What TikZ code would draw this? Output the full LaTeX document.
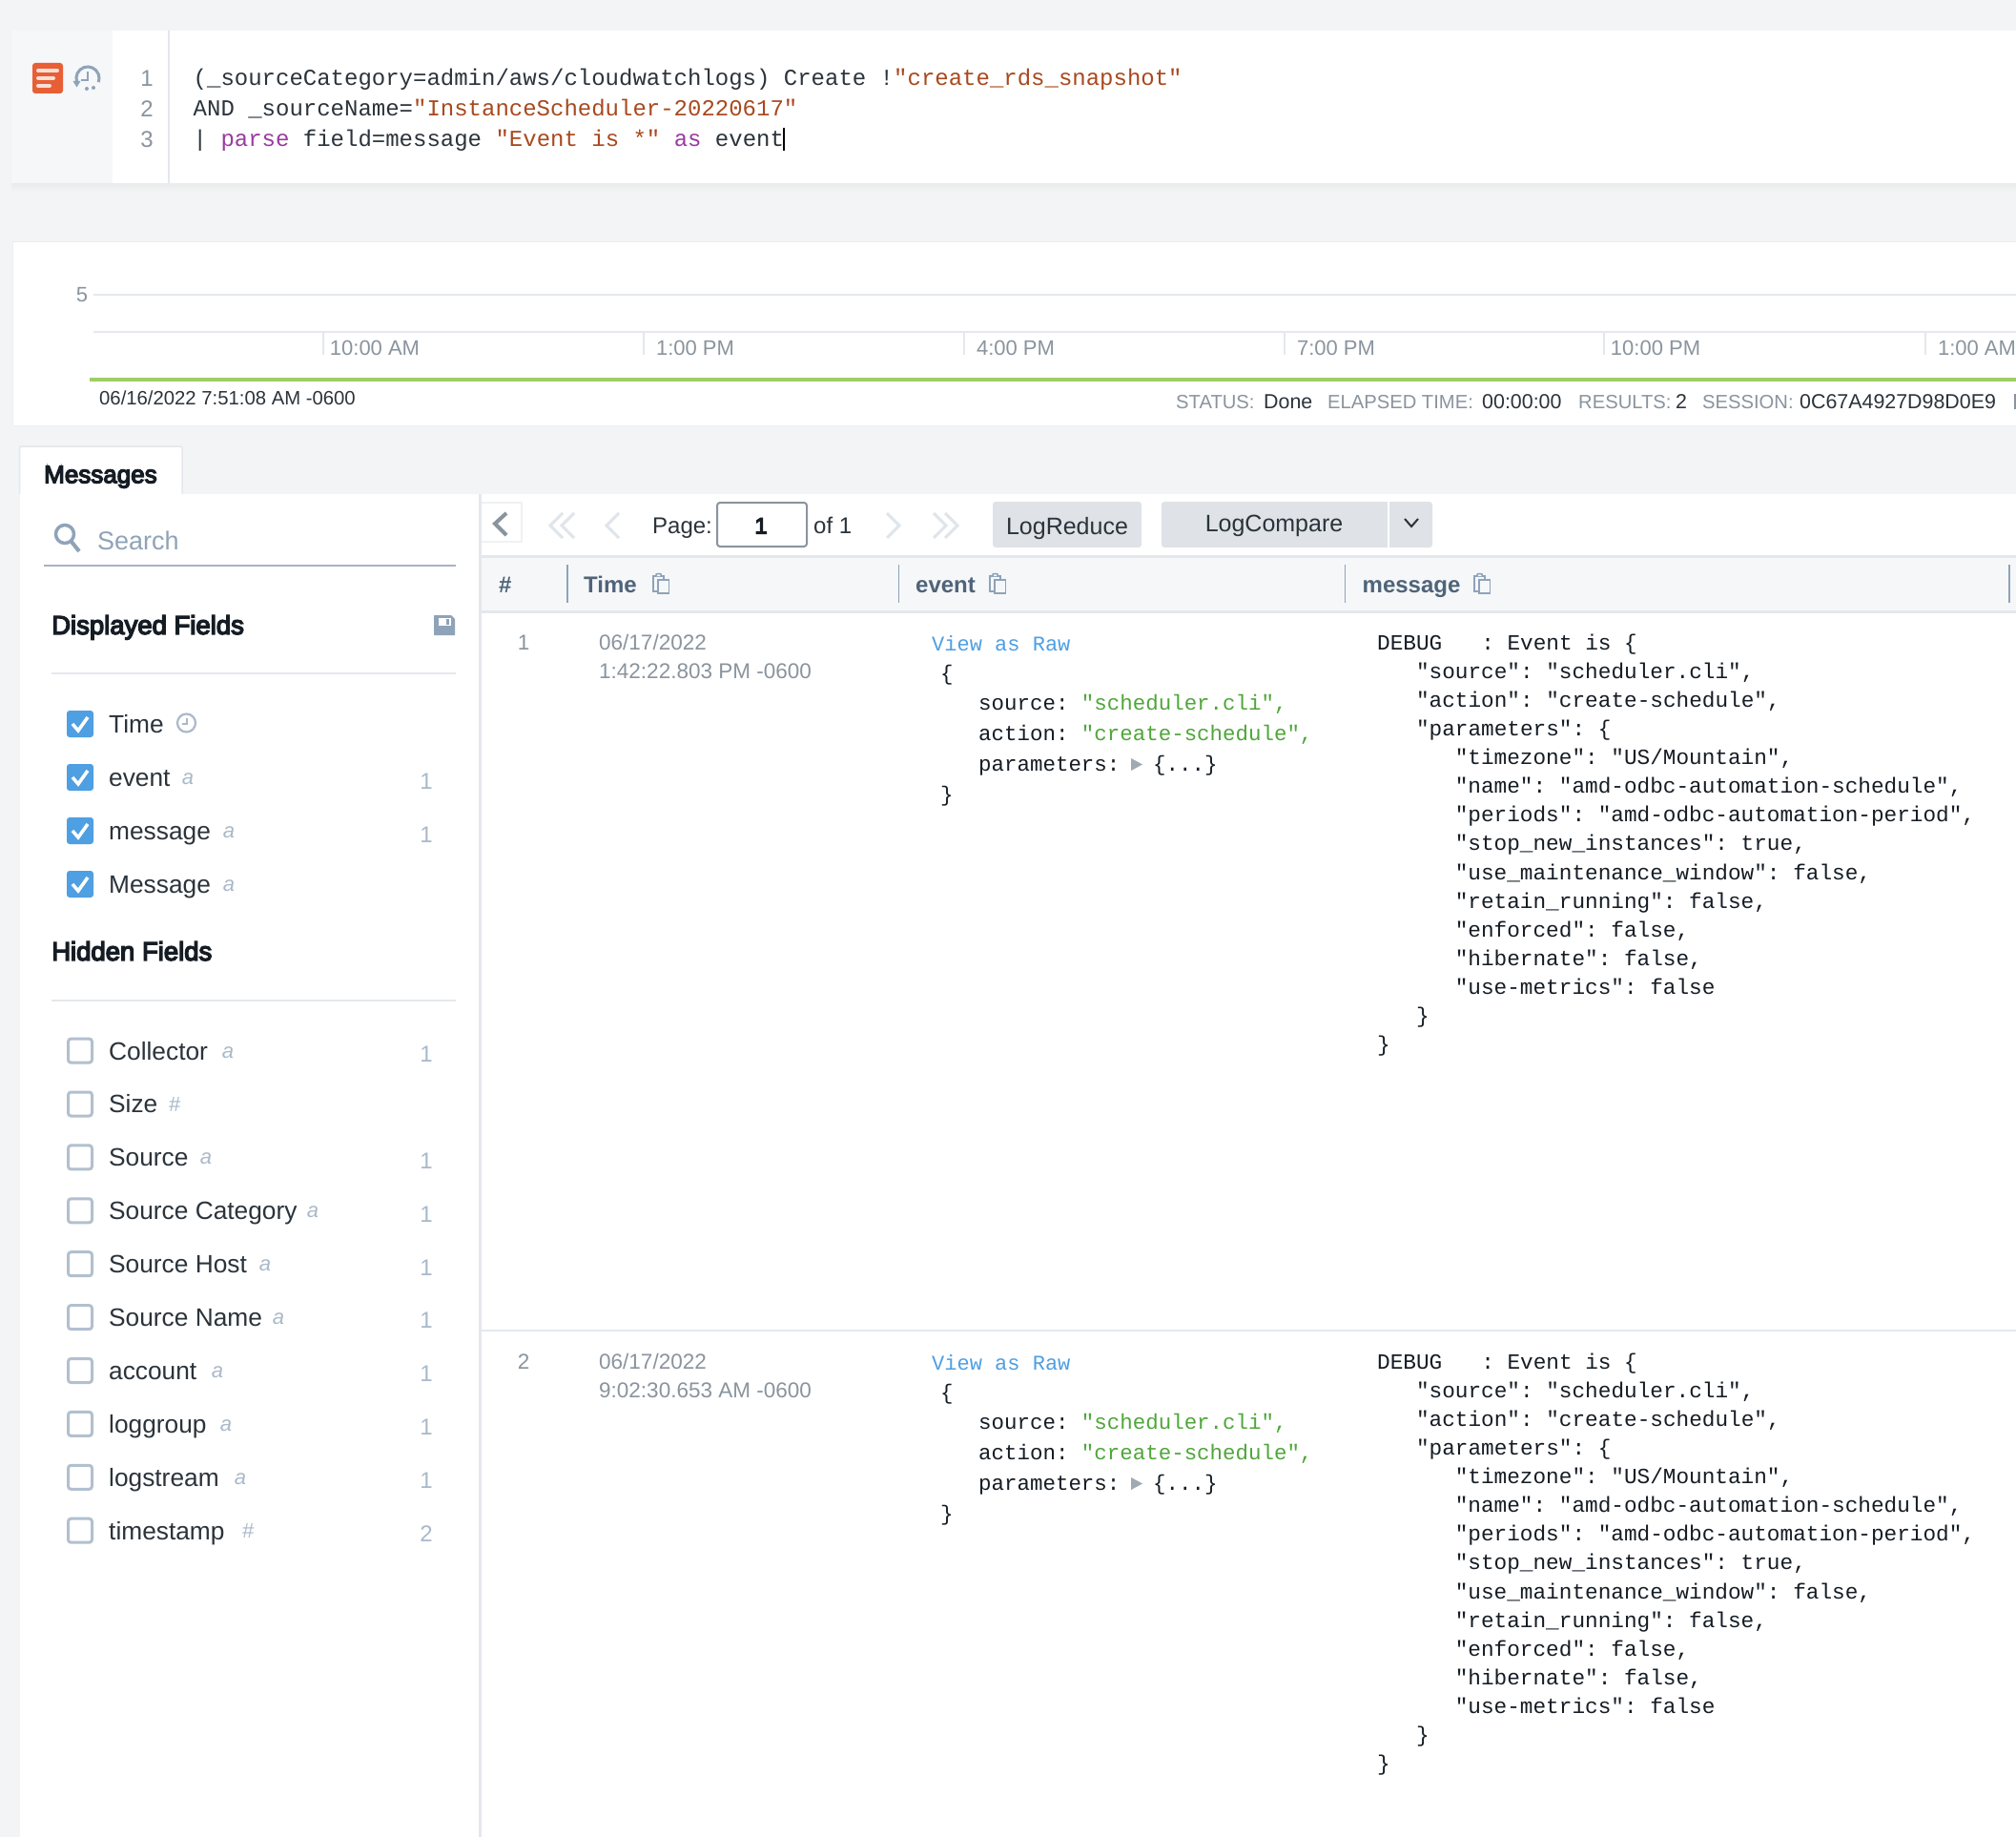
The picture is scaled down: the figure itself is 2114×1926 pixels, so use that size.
\documentclass[tikz,border=0pt]{standalone}
\usepackage{fontspec}
\setmainfont{Liberation Sans}
\newfontfamily\codefont{Liberation Mono}
\newfontfamily\medfont[FakeBold=5]{Liberation Sans}
\usepackage{xcolor}
\definecolor{pagebg}{HTML}{F2F4F6}
\definecolor{gutterbg}{HTML}{F5F7F9}
\definecolor{rulegrey}{HTML}{E4E8EC}
\definecolor{darktext}{HTML}{2B333B}
\definecolor{headtext}{HTML}{151C24}
\definecolor{greytext}{HTML}{8A949E}
\definecolor{paleblue}{HTML}{8FA3B8}
\definecolor{faintblue}{HTML}{AAB9C9}
\definecolor{colhead}{HTML}{4F6479}
\definecolor{tickblue}{HTML}{4F9FE3}
\definecolor{stringbrown}{HTML}{A8491E}
\definecolor{keypurple}{HTML}{9A3AA0}
\definecolor{jsongreen}{HTML}{4FA63A}
\definecolor{logoorange}{HTML}{E85F36}
\definecolor{btngrey}{HTML}{DFE3E7}
\definecolor{chevgrey}{HTML}{DFE5EA}
\definecolor{donegreen}{HTML}{A0CC66}
\newcommand\fs[1]{\fontsize{#1}{#1}\selectfont}
\tikzset{%
    sans/.style={font=\fs{#1}, inner sep=0pt, anchor=base west, yshift={-0.36*#1pt}},
    med/.style={font=\medfont\fs{#1}, inner sep=0pt, anchor=base west, yshift={-0.36*#1pt}},
    head/.style={font=\bfseries\fs{#1}, inner sep=0pt, anchor=base west, yshift={-0.36*#1pt}, text=colhead},
    code/.style={font=\codefont\fs{#1}, inner sep=0pt, anchor=base west, yshift={-0.33*#1pt}},
    kindmark/.style={font=\itshape\fs{22}, inner sep=0pt, anchor=base, yshift=-7.5pt, text=faintblue},
    chev/.style={draw=chevgrey, line width=3pt},
    colsep/.style={draw=paleblue, line width=1.5pt},
    pics/checked/.style={code={
        \fill[tickblue, rounded corners=3pt] (-14,-14) rectangle (14,14);
        \draw[white, line width=3.5pt] (-8,0) -- (-2,7) -- (8,-7);
    }},
    pics/unchecked/.style={code={
        \draw[draw=faintblue!90!white, fill=white, line width=3pt, rounded corners=3pt] (-12.5,-12.5) rectangle (12.5,12.5);
    }},
    pics/clipicon/.style={code={
        \draw[paleblue, line width=1.5pt] (-8,-8) rectangle (3,8);
        \draw[paleblue, fill=gutterbg, line width=1.5pt] (-3,-4) rectangle (8.5,10);
        \draw[paleblue, fill=gutterbg, line width=1.5pt] (-5,-8) -- (-5,-10) -- (-2.5,-10.5) -- (0,-10) -- (0,-8);
    }}
}

\begin{document}
\frenchspacing
\begin{tikzpicture}[x=1pt,y=-1pt]
\useasboundingbox (0,0) rectangle (2114,1926);
\fill[pagebg] (0,0) rectangle (2114,1926);

\shade[top color=black!8, bottom color=pagebg] (12,192) rectangle (2114,201);
\shade[left color=pagebg, right color=black!5] (8,32) rectangle (12,192);
\fill[white] (12,32) rectangle (2114,192);
\fill[gutterbg] (12,32) rectangle (118,192);
\fill[rulegrey] (176,32) rectangle (178,192);

\fill[logoorange, rounded corners=3pt] (34,66) rectangle (66,98);
\draw[white!80!logoorange, line width=4pt, line cap=round] (40,74) -- (60,74);
\draw[white!80!logoorange, line width=4pt, line cap=round] (40,82) -- (56,82);
\draw[white!80!logoorange, line width=4pt, line cap=round] (40,90) -- (52,90);
\draw[paleblue, line width=3pt] (80.7,86.1) arc[start angle=200, end angle=-20, radius=12pt];
\fill[paleblue] (76.5,85) -- (84.5,85) -- (80.5,91.5) -- cycle;
\draw[paleblue, line width=2pt] (92,75) -- (92,84) -- (85,84);
\fill[paleblue] (91,93) circle (2);
\fill[paleblue] (98,92) circle (2);

\foreach \n/\y in {1/82, 2/114, 3/146}
    \node[sans=24, text=greytext, anchor=base] (lineno\n) at (154,\y) {\n};
\node[code=24, text=darktext] (codeone) at (202.5,82) {(\_sourceCategory=admin/aws/cloudwatchlogs) Create !\textcolor{stringbrown}{"create\_rds\_snapshot"}};
\node[code=24, text=darktext] (codetwo) at (202.5,114) {AND \_sourceName=\textcolor{stringbrown}{"InstanceScheduler-20220617"}};
\node[code=24, text=darktext] (codethree) at (202.5,146) {| \textcolor{keypurple}{parse} field=message \textcolor{stringbrown}{"Event is *"} \textcolor{keypurple}{as} event};
\draw[black, line width=2pt] (822,134) -- (822,158);

\draw[draw=rulegrey!70!white, fill=white, line width=1pt] (13.5,254) rectangle (2116,446);
\node[sans=22, text=greytext, anchor=base] (ylabel) at (86,309) {5};
\draw[rulegrey, line width=2pt] (98,309) -- (2114,309);
\draw[rulegrey, line width=2pt] (98,348) -- (2114,348);
\foreach \t/\lab in {339/10:00 AM, 675/1:00 PM, 1011/4:00 PM, 1347/7:00 PM, 1682/10:00 PM, 2019/1:00 AM} {
    \draw[rulegrey, line width=1.5pt] (\t,348) -- (\t,372);
    \node[sans=22, text=greytext, anchor=base] (tick\t) at (\t+54,365) {\lab};
}
\fill[donegreen] (94,396) rectangle (2114,400);
\node[sans=20.3, text=darktext] (startdate) at (104,417) {06/16/2022 7:51:08 AM -0600};

\node[sans=20.2, text=greytext] (statuskey) at (1233,421) {STATUS:};
\node[sans=21.4, text=darktext] (statusval) at (1325,421) {Done};
\node[sans=20.2, text=greytext] (elapsedkey) at (1392,421) {ELAPSED TIME:};
\node[sans=21.4, text=darktext] (elapsedval) at (1554,421) {00:00:00};
\node[sans=20.2, text=greytext] (resultskey) at (1655,421) {RESULTS:};
\node[sans=21.4, text=darktext] (resultsval) at (1757,421) {2};
\node[sans=20.2, text=greytext] (sessionkey) at (1785,421) {SESSION:};
\node[sans=21.4, text=darktext] (sessionval) at (1887,421) {0C67A4927D98D0E9};
\draw[greytext, line width=2pt] (2112.5,413) -- (2112.5,429);

\draw[draw=rulegrey, fill=white, line width=1.5pt, rounded corners=2pt] (20.5,518) -- (20.5,468) -- (191,468) -- (191,518);
\fill[white] (21,518) rectangle (2114,1926);
\node[med=26, text=headtext] (tabmessages) at (46,497) {Messages};
\fill[rulegrey] (502,518) rectangle (505,1926);

\draw[paleblue, line width=3.5pt] (68,560) circle (9.5);
\draw[paleblue, line width=4pt] (75,568) -- (83,578);
\node[sans=27, text=paleblue] (searchbox) at (102,566.5) {Search};
\draw[faintblue!90!gray, line width=2pt] (46,593) -- (478,593);

\node[med=27.5, text=headtext] (displayed) at (54,655) {Displayed Fields};
\fill[paleblue, rounded corners=0.5pt] (455,645) -- (473,645) -- (477,649) -- (477,666) -- (455,666) -- cycle;
\fill[white] (460,648) rectangle (473,656);
\fill[paleblue] (468,649) rectangle (471,655);
\draw[rulegrey, line width=2pt] (54,706) -- (478,706);

\pic at (84,759) {checked};
\node[sans=26.3, text=darktext] (fieldtime) at (114,759) {Time};
\draw[faintblue, line width=2.2pt] (195.5,758) circle (9.5);
\draw[faintblue, line width=1.5pt] (196,753) -- (196,759) -- (191,759);
\foreach \fieldname/\kindx/\fieldcount [count=\k] in {event/197/1, message/240/1, Message/240/{}} {
    \pic at (84,{759+56*\k}) {checked};
    \node[sans=26.3, text=darktext] (shown\k) at (114,{759+56*\k}) {\fieldname};
    \node[kindmark] (shownkind\k) at (\kindx,{759+56*\k}) {a};
    \node[sans=24, text=faintblue, anchor=base] (showncount\k) at (447,{763+56*\k}) {\fieldcount};
}

\node[med=27.5, text=headtext] (hidden) at (54,997) {Hidden Fields};
\draw[rulegrey, line width=2pt] (54,1049) -- (478,1049);
\foreach \fieldname/\fieldkind/\kindx/\fieldcount [count=\k] in {Collector/a/239/1, Size/\#/183/{}, Source/a/216/1, Source Category/a/328/1, Source Host/a/278/1, Source Name/a/292/1, account/a/228/1, loggroup/a/237/1, logstream/a/252/1, timestamp/\#/260/2} {
    \pic at (84,{1045.7+55.9*\k}) {unchecked};
    \node[sans=26.3, text=darktext] (hide\k) at (114,{1045.7+55.9*\k}) {\fieldname};
    \node[kindmark] (hidekind\k) at (\kindx,{1045.7+55.9*\k}) {\fieldkind};
    \node[sans=24, text=faintblue, anchor=base] (hidecount\k) at (447,{1048.9+55.9*\k}) {\fieldcount};
}

\draw[draw=rulegrey!60!white, line width=2pt] (505,527) -- (547,527) -- (547,568) -- (505,568);
\draw[draw=greytext, line width=4pt] (531,538) -- (519,549) -- (531,561);
\draw[chev] (590,538) -- (577,551) -- (590,564);
\draw[chev] (602,538) -- (589,551) -- (602,564);
\draw[chev] (649,538) -- (636,551) -- (649,564);
\node[sans=24, text=darktext] (pagelabel) at (684,551) {Page:};
\draw[draw=greytext, fill=white, line width=2pt, rounded corners=3pt] (752,527) rectangle (846,573);
\node[med=24, text=headtext, anchor=base] (pagebox) at (798,551) {1};
\node[sans=24, text=darktext] (pagecount) at (853,551) {of 1};
\draw[chev] (930,538) -- (943,551) -- (930,564);
\draw[chev] (979,538) -- (992,551) -- (979,564);
\draw[chev] (991,538) -- (1004,551) -- (991,564);

\fill[btngrey, rounded corners=3pt] (1041,526) rectangle (1197,574);
\node[sans=25, text=darktext, anchor=base] (logreduce) at (1119,551) {LogReduce};
\fill[btngrey, rounded corners=3pt] (1218,526) rectangle (1502,574);
\fill[white] (1455,526) rectangle (1456.5,574);
\node[sans=25, text=darktext, anchor=base] (logcompare) at (1336,548) {LogCompare};
\draw[darktext, line width=2pt] (1473,544) -- (1480,552) -- (1487,544);

\fill[gutterbg] (505,583) rectangle (2114,641);
\draw[rulegrey, line width=3pt] (505,583) -- (2114,583);
\draw[rulegrey, line width=3pt] (505,641) -- (2114,641);
\foreach \x in {595,942.6,1410.4,2107}
    \draw[colsep] (\x,592) -- (\x,632);
\node[head=24] (colnum) at (523,613) {\#};
\node[head=24] (coltime) at (612,613) {Time};
\pic at (693,612) {clipicon};
\node[head=24] (colevent) at (960,613) {event};
\pic at (1046,612) {clipicon};
\node[head=24] (colmessage) at (1428.5,613) {message};
\pic at (1554,612) {clipicon};

\draw[rulegrey, line width=2pt] (505,1395) -- (2114,1395);

\foreach \dy/\rownum/\stamp in {0/1/{1:42:22.803 PM -0600}, 754/2/{9:02:30.653 AM -0600}} {
    \node[sans=22.5, text=greytext, anchor=base] (rownum\rownum) at (549,673.5+\dy) {\rownum};
    \node[sans=22.5, text=greytext] (rowdate\rownum) at (628,673.5+\dy) {06/17/2022};
    \node[sans=22.5, text=greytext] (rowstamp\rownum) at (628,703.5+\dy) {\stamp};
    \node[code=22, text=tickblue] (viewraw\rownum) at (977,675+\dy) {View as Raw};
    \node[code=22.45, text=headtext] (evopen\rownum) at (986,706+\dy) {\{};
    \node[code=22.45, text=headtext] (evsource\rownum) at (1026,737+\dy) {source: \textcolor{jsongreen}{"scheduler.cli",}};
    \node[code=22.45, text=headtext] (evaction\rownum) at (1026,769+\dy) {action: \textcolor{jsongreen}{"create-schedule",}};
    \node[code=22.45, text=headtext] (evparams\rownum) at (1026,801+\dy) {parameters:};
    \fill[greytext!80!white] (1186,795+\dy) -- (1198,801.5+\dy) -- (1186,808+\dy) -- cycle;
    \node[code=22.45, text=headtext] (evfold\rownum) at (1209,801+\dy) {\{...\}};
    \node[code=22.45, text=headtext] (evclose\rownum) at (986,833+\dy) {\}};
    \foreach \ind/\txt [count=\m from 0] in {0/{DEBUG\ \ \ : Event is \{},
        3/{"source": "scheduler.cli",},
        3/{"action": "create-schedule",},
        3/{"parameters": \{},
        6/{"timezone": "US/Mountain",},
        6/{"name": "amd-odbc-automation-schedule",},
        6/{"periods": "amd-odbc-automation-period",},
        6/{"stop\_new\_instances": true,},
        6/{"use\_maintenance\_window": false,},
        6/{"retain\_running": false,},
        6/{"enforced": false,},
        6/{"hibernate": false,},
        6/{"use-metrics": false},
        3/{\}},
        0/{\}}}
        \node[code=22.72, text=headtext] (msg\rownum-\m) at (1444+13.6*\ind,674.2+\dy+30.04*\m) {\txt};
}
\end{tikzpicture}
\end{document}
